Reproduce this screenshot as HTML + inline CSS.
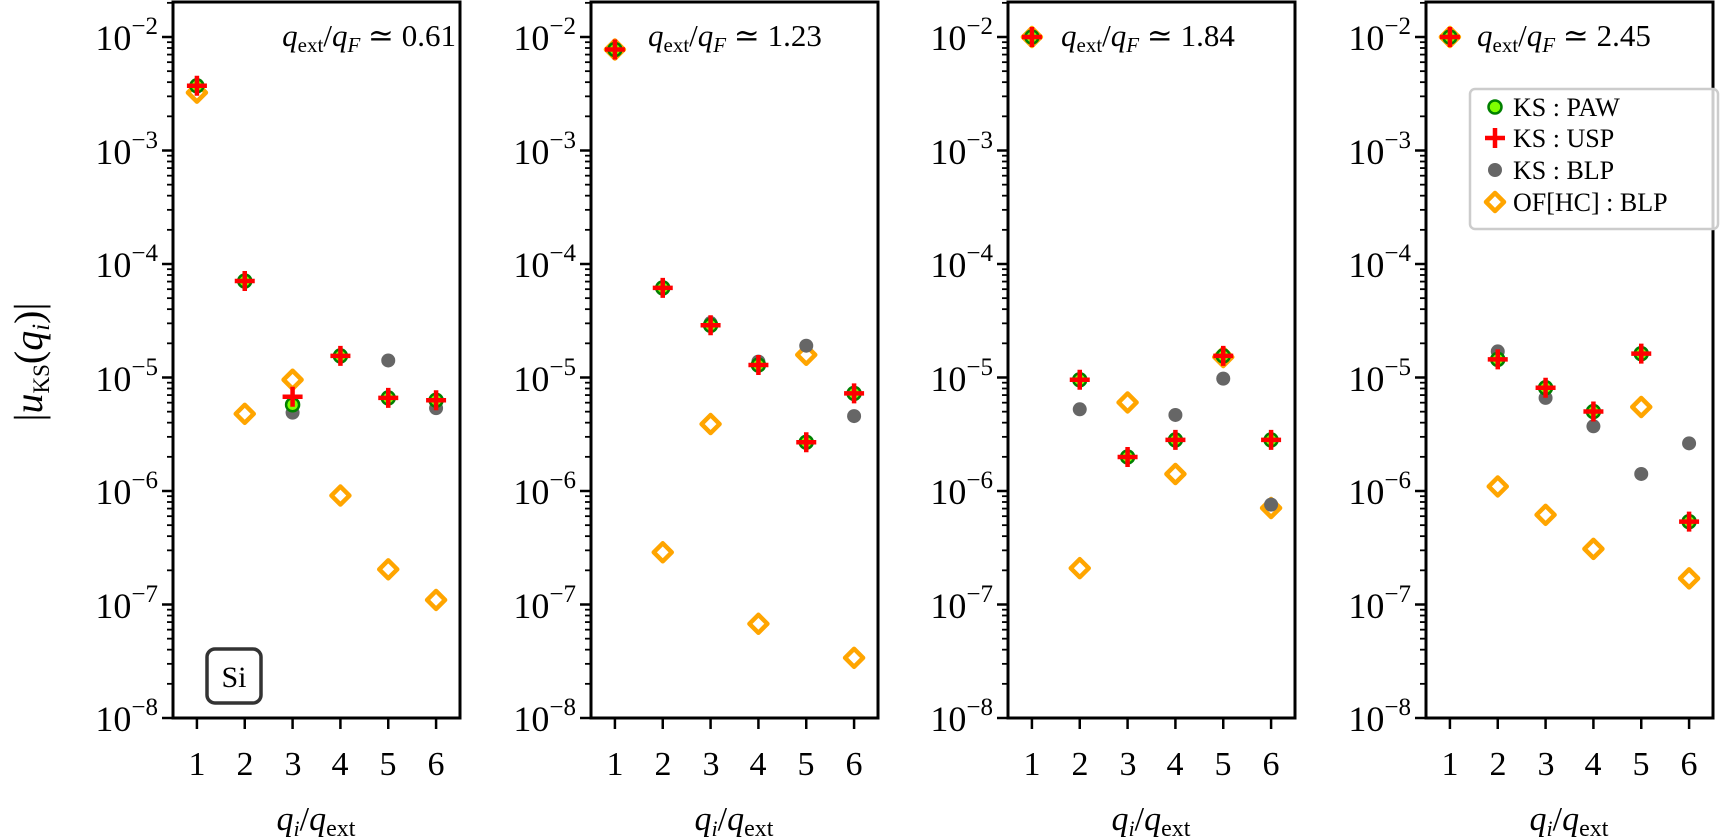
<!DOCTYPE html>
<html><head><meta charset="utf-8"><style>
html,body{margin:0;padding:0;background:#fff;}
svg{display:block;font-family:"Liberation Serif","DejaVu Serif",serif;}
</style></head><body>
<svg id="s" width="1725" height="839" viewBox="0 0 1725 839" xmlns="http://www.w3.org/2000/svg">
<g id="g"></g>
<g font-size="36" text-anchor="end" fill="#000">
<text x="158" y="50">10<tspan font-size="25" dy="-16">−2</tspan></text>
<text x="158" y="164">10<tspan font-size="25" dy="-16">−3</tspan></text>
<text x="158" y="277">10<tspan font-size="25" dy="-16">−4</tspan></text>
<text x="158" y="391">10<tspan font-size="25" dy="-16">−5</tspan></text>
<text x="158" y="504">10<tspan font-size="25" dy="-16">−6</tspan></text>
<text x="158" y="618">10<tspan font-size="25" dy="-16">−7</tspan></text>
<text x="158" y="731">10<tspan font-size="25" dy="-16">−8</tspan></text>
<text x="576" y="50">10<tspan font-size="25" dy="-16">−2</tspan></text>
<text x="576" y="164">10<tspan font-size="25" dy="-16">−3</tspan></text>
<text x="576" y="277">10<tspan font-size="25" dy="-16">−4</tspan></text>
<text x="576" y="391">10<tspan font-size="25" dy="-16">−5</tspan></text>
<text x="576" y="504">10<tspan font-size="25" dy="-16">−6</tspan></text>
<text x="576" y="618">10<tspan font-size="25" dy="-16">−7</tspan></text>
<text x="576" y="731">10<tspan font-size="25" dy="-16">−8</tspan></text>
<text x="993" y="50">10<tspan font-size="25" dy="-16">−2</tspan></text>
<text x="993" y="164">10<tspan font-size="25" dy="-16">−3</tspan></text>
<text x="993" y="277">10<tspan font-size="25" dy="-16">−4</tspan></text>
<text x="993" y="391">10<tspan font-size="25" dy="-16">−5</tspan></text>
<text x="993" y="504">10<tspan font-size="25" dy="-16">−6</tspan></text>
<text x="993" y="618">10<tspan font-size="25" dy="-16">−7</tspan></text>
<text x="993" y="731">10<tspan font-size="25" dy="-16">−8</tspan></text>
<text x="1411" y="50">10<tspan font-size="25" dy="-16">−2</tspan></text>
<text x="1411" y="164">10<tspan font-size="25" dy="-16">−3</tspan></text>
<text x="1411" y="277">10<tspan font-size="25" dy="-16">−4</tspan></text>
<text x="1411" y="391">10<tspan font-size="25" dy="-16">−5</tspan></text>
<text x="1411" y="504">10<tspan font-size="25" dy="-16">−6</tspan></text>
<text x="1411" y="618">10<tspan font-size="25" dy="-16">−7</tspan></text>
<text x="1411" y="731">10<tspan font-size="25" dy="-16">−8</tspan></text>
</g>
<g font-size="34" text-anchor="middle">
<text x="197" y="775">1</text><text x="245" y="775">2</text><text x="293" y="775">3</text><text x="340" y="775">4</text><text x="388" y="775">5</text><text x="436" y="775">6</text>
<text x="615" y="775">1</text><text x="663" y="775">2</text><text x="711" y="775">3</text><text x="758" y="775">4</text><text x="806" y="775">5</text><text x="854" y="775">6</text>
<text x="1032" y="775">1</text><text x="1080" y="775">2</text><text x="1128" y="775">3</text><text x="1175" y="775">4</text><text x="1223" y="775">5</text><text x="1271" y="775">6</text>
<text x="1450" y="775">1</text><text x="1498" y="775">2</text><text x="1546" y="775">3</text><text x="1593" y="775">4</text><text x="1641" y="775">5</text><text x="1689" y="775">6</text>
</g>
<g font-size="34" text-anchor="middle">
<text x="316" y="830"><tspan font-style="italic">q</tspan><tspan font-size="22" dy="6" font-style="italic">i</tspan><tspan dy="-6">/</tspan><tspan font-style="italic">q</tspan><tspan font-size="24" dy="6">ext</tspan></text>
<text x="734" y="830"><tspan font-style="italic">q</tspan><tspan font-size="22" dy="6" font-style="italic">i</tspan><tspan dy="-6">/</tspan><tspan font-style="italic">q</tspan><tspan font-size="24" dy="6">ext</tspan></text>
<text x="1151" y="830"><tspan font-style="italic">q</tspan><tspan font-size="22" dy="6" font-style="italic">i</tspan><tspan dy="-6">/</tspan><tspan font-style="italic">q</tspan><tspan font-size="24" dy="6">ext</tspan></text>
<text x="1569" y="830"><tspan font-style="italic">q</tspan><tspan font-size="22" dy="6" font-style="italic">i</tspan><tspan dy="-6">/</tspan><tspan font-style="italic">q</tspan><tspan font-size="24" dy="6">ext</tspan></text>
</g>
<text transform="translate(42,362) rotate(-90)" font-size="40" text-anchor="middle">|<tspan font-style="italic">u</tspan><tspan font-size="23" dy="7">KS</tspan><tspan dy="-7">(</tspan><tspan font-style="italic">q</tspan><tspan font-size="25" dy="7" font-style="italic">i</tspan><tspan dy="-7">)|</tspan></text>
<g font-size="31">
<text x="456" y="46" text-anchor="end"><tspan font-style="italic">q</tspan><tspan font-size="21" dy="6">ext</tspan><tspan dy="-6">/</tspan><tspan font-style="italic">q</tspan><tspan font-size="21" dy="6" font-style="italic">F</tspan><tspan dy="-6"> ≃ 0.61</tspan></text>
<text x="648" y="46"><tspan font-style="italic">q</tspan><tspan font-size="21" dy="6">ext</tspan><tspan dy="-6">/</tspan><tspan font-style="italic">q</tspan><tspan font-size="21" dy="6" font-style="italic">F</tspan><tspan dy="-6"> ≃ 1.23</tspan></text>
<text x="1061" y="46"><tspan font-style="italic">q</tspan><tspan font-size="21" dy="6">ext</tspan><tspan dy="-6">/</tspan><tspan font-style="italic">q</tspan><tspan font-size="21" dy="6" font-style="italic">F</tspan><tspan dy="-6"> ≃ 1.84</tspan></text>
<text x="1477" y="46"><tspan font-style="italic">q</tspan><tspan font-size="21" dy="6">ext</tspan><tspan dy="-6">/</tspan><tspan font-style="italic">q</tspan><tspan font-size="21" dy="6" font-style="italic">F</tspan><tspan dy="-6"> ≃ 2.45</tspan></text>
</g>
<rect x="207" y="649" width="54" height="54" rx="8" fill="#fff" stroke="#333" stroke-width="3.5"/>
<text x="234" y="687" font-size="30" text-anchor="middle">Si</text>
<rect x="1470" y="89" width="248" height="140" rx="5" fill="#fff" fill-opacity="0.8" stroke="#ccc" stroke-width="2.5"/>
<g id="leg"></g>
<g font-size="26">
<text x="1513" y="116">KS : PAW</text>
<text x="1513" y="147">KS : USP</text>
<text x="1513" y="179">KS : BLP</text>
<text x="1513" y="211">OF[HC] : BLP</text>
</g>
</svg>
<script>
var NS="http://www.w3.org/2000/svg",g=document.getElementById("g");
function el(t,a,p){var e=document.createElementNS(NS,t);for(var k in a)e.setAttribute(k,a[k]);(p||g).appendChild(e);return e;}
var L=[173,591,1008,1426],W=287,Y8=718,D=113.5,TOP=2;
function Y(v){return Y8-(v+8)*D;}
function circ(x,y,r,f,s,sw,p){el("circle",{cx:x,cy:y,r:r,fill:f,stroke:s,"stroke-width":sw},p);}
function paw(x,y,p){circ(x,y,6.5,"#7fff00","green",2.5,p);}
function blp(x,y,p){circ(x,y,7,"#666","none",0,p);}
function usp(x,y,p){el("path",{d:"M"+(x-10)+" "+y+"H"+(x+10)+"M"+x+" "+(y-10)+"V"+(y+10),stroke:"red","stroke-width":4.5,fill:"none"},p);}
function of(x,y,p){var r=9;el("path",{d:"M"+x+" "+(y-r)+"L"+(x+r)+" "+y+"L"+x+" "+(y+r)+"L"+(x-r)+" "+y+"Z",fill:"#fff",stroke:"orange","stroke-width":4.5,"stroke-linejoin":"round"},p);}
var data=[
 {paw:[-2.43,-4.15,-5.24,-4.81,-5.18,-5.20],usp:[-2.43,-4.15,-5.17,-4.81,-5.18,-5.20],blp:[-2.43,-4.15,-5.31,-4.81,-4.85,-5.27],of:[-2.49,-5.32,-5.02,-6.04,-6.69,-6.96]},
 {paw:[-2.11,-4.21,-4.54,-4.89,-5.57,-5.14],usp:[-2.11,-4.21,-4.54,-4.89,-5.57,-5.14],blp:[-2.11,-4.21,-4.52,-4.86,-4.72,-5.34],of:[-2.11,-6.54,-5.41,-7.17,-4.80,-7.47]},
 {paw:[-2.0,-5.02,-5.70,-5.55,-4.81,-5.55],usp:[-2.0,-5.02,-5.70,-5.55,-4.81,-5.55],blp:[-2.0,-5.28,-5.70,-5.33,-5.01,-6.12],of:[-2.0,-6.68,-5.22,-5.85,-4.82,-6.15]},
 {paw:[-2.0,-4.84,-5.09,-5.30,-4.79,-6.27],usp:[-2.0,-4.84,-5.09,-5.30,-4.79,-6.27],blp:[-2.0,-4.77,-5.18,-5.43,-5.85,-5.58],of:[-2.0,-5.96,-6.21,-6.51,-5.26,-6.77]}
];
for(var p=0;p<4;p++){
 var l=L[p];
 for(var d=-8;d<=-2;d++){
  el("line",{x1:l-11,x2:l,y1:Y(d),y2:Y(d),stroke:"#000","stroke-width":2.5});
  for(var m=2;m<=9;m++){var v=d+Math.log10(m);var yy=Y(v);if(yy<TOP)continue;
   el("line",{x1:l-6,x2:l,y1:yy,y2:yy,stroke:"#000","stroke-width":1.8});}
 }
 for(var i=1;i<=6;i++){var x=l+(i-0.5)*W/6;el("line",{x1:x,x2:x,y1:Y8,y2:Y8+11,stroke:"#000","stroke-width":2.5});}
 var dd=data[p];
 for(var i=0;i<6;i++){var x=l+(i+0.5)*W/6;of(x,Y(dd.of[i]));}
 for(var i=0;i<6;i++){var x=l+(i+0.5)*W/6;blp(x,Y(dd.blp[i]));}
 for(var i=0;i<6;i++){var x=l+(i+0.5)*W/6;paw(x,Y(dd.paw[i]));}
 for(var i=0;i<6;i++){var x=l+(i+0.5)*W/6;usp(x,Y(dd.usp[i]));}
 el("rect",{x:l,y:TOP,width:W,height:Y8-TOP,fill:"none",stroke:"#000","stroke-width":3});
}
var lg=document.getElementById("leg");
paw(1495,107,lg);usp(1495,138,lg);blp(1495,170,lg);of(1495,202,lg);
</script>
</body></html>
